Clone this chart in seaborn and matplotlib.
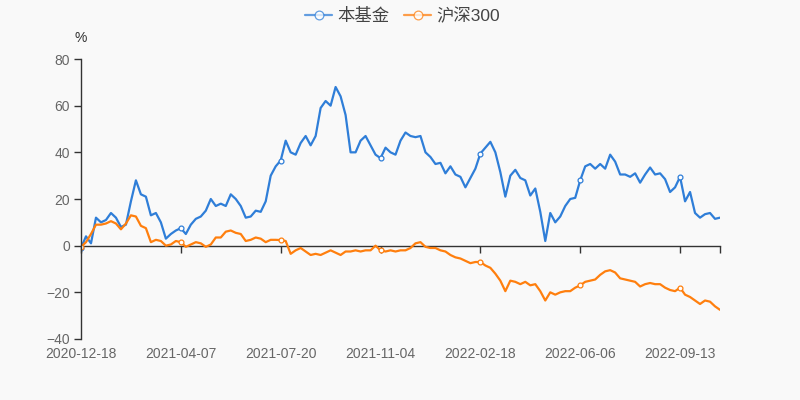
import matplotlib

matplotlib.use("Agg")
import matplotlib.pyplot as plt
import numpy as np
import pandas as pd
import seaborn as sns

# one sample roughly every 3-4 trading days
fund = [
    -1, 4, 1, 12, 10, 11, 14, 12, 8, 9,
    19, 28, 22, 21, 13, 14, 10, 3, 5, 6.5,
    7.5, 5, 9, 11.5, 12.5, 15, 20, 17, 18, 17,
    22, 20, 17, 12, 12.5, 15, 14.5, 19, 30, 34,
    36.5, 45, 40, 39, 44, 47, 43, 47, 59, 62,
    60, 68, 64, 56, 40, 40, 45, 47, 43, 39,
    37.5, 42, 40, 39, 45, 48.5, 47, 46.5, 47, 40,
    38, 35, 35.5, 31, 34, 30.5, 29.5, 25, 29, 33,
    39.5, 42, 44.5, 40, 31.5, 21, 30, 32.5, 29, 28,
    21.5, 24.5, 14.5, 2, 14, 10, 12.5, 17, 20, 20.5,
    28, 34, 35, 33, 35, 33, 39, 36, 30.5, 30.5,
    29.5, 31, 27, 30.5, 33.5, 30.5, 31, 28.5, 23, 25,
    29.5, 19, 23, 14, 12, 13.5, 14, 11.5, 12,
]
hs300 = [
    -0.5, 1.5, 5, 9, 9, 9.5, 10.5, 9.5, 7, 9.5,
    13, 12.5, 8.5, 7.5, 1.5, 2.5, 2, 0, 0.5, 2,
    1.5, -0.5, 0.5, 1.5, 1, -0.5, 0.5, 3.5, 3.5, 6,
    6.5, 5.5, 5, 2, 2.5, 3.5, 3, 1.5, 2.5, 2.5,
    2.4, 2, -3.5, -2, -1, -2.5, -4, -3.5, -4, -3,
    -2, -3, -4, -2.5, -2.5, -2, -2.5, -2, -2, 0,
    -2, -2.5, -2, -2.5, -2, -2, -1, 1, 1.5, -0.5,
    -1, -1, -2, -2.5, -4, -5, -5.5, -6.5, -7.5, -7,
    -7, -8.5, -9.5, -12, -15, -19.5, -15, -15.5, -16.5, -15.5,
    -17, -16.5, -19.5, -23.5, -20, -21, -20, -19.5, -19.5, -18,
    -17, -15.5, -15, -14.5, -12.5, -11, -10.5, -11.5, -14, -14.5,
    -15, -15.5, -17.5, -16.5, -16, -16.5, -16.5, -18, -19, -19.5,
    -18, -21, -22, -23.5, -25, -23.5, -24, -26, -27.5,
]
tick_labels = ["2020-12-18", "2021-04-07", "2021-07-20", "2021-11-04",
               "2022-02-18", "2022-06-06", "2022-09-13"]
tick_step = 20
y_ticks = [-40, -20, 0, 20, 40, 60, 80]

BG = "#f9f9f9"
BLUE = "#2f7ed8"
ORANGE = "#ff7f0e"

sns.set_theme(style="white")
plt.rcParams["font.family"] = ["Liberation Sans", "Noto Sans CJK SC", "DejaVu Sans"]

idx = np.arange(len(fund))
df = pd.DataFrame({"idx": idx, "fund": fund, "hs300": hs300})
n_last = len(fund) - 1
tick_pos = list(range(0, n_last + 1, tick_step))

fig = plt.figure(figsize=(8, 4), dpi=100, facecolor=BG)
ax = fig.add_axes([0.10125, 0.1525, 0.79875, 0.70])
ax.set_facecolor(BG)

for col, color, label in [("fund", BLUE, "本基金"), ("hs300", ORANGE, "沪深300")]:
    sns.lineplot(data=df, x="idx", y=col, ax=ax, color=color, linewidth=1.6,
                 marker="o", markersize=3.5, markevery=tick_pos,
                 markerfacecolor="white", markeredgecolor=color,
                 markeredgewidth=0.9, label=label)

ax.set_xlim(0, n_last)
ax.set_ylim(-40, 80)
ax.set_yticks(y_ticks)
ax.set_xticks(tick_pos[:len(tick_labels)])
ax.set_xticklabels(tick_labels)
ax.set_xlabel("")
ax.set_ylabel("")

for s in ("top", "right", "bottom"):
    ax.spines[s].set_visible(False)
ax.spines["left"].set_color("#333333")
ax.spines["left"].set_linewidth(1.0)
ax.tick_params(axis="y", length=5, width=1, color="#333333",
               labelsize=10, labelcolor="#666666", left=True, pad=3)
ax.tick_params(axis="x", length=0, labelsize=10, labelcolor="#666666", pad=6)

# x axis line sits at zero, ticks on it but labels stay at the bottom
zero_frac = (0 - (-40)) / (80 - (-40))
sec = ax.secondary_xaxis(zero_frac)
sec.set_xticks(tick_pos + [n_last])
sec.tick_params(axis="x", length=5, width=1, color="#333333", labelbottom=False,
                direction="out")
sec.spines["bottom"].set_color("#333333")
sec.spines["bottom"].set_linewidth(1.0)

ax.text(0, 1.05, "%", transform=ax.transAxes, ha="center", va="bottom",
        fontsize=10, color="#333333")

leg = ax.legend(loc="upper center", bbox_to_anchor=(0.503, 1.24),
                ncol=2, frameon=False, fontsize=12.5, handlelength=1.6,
                handletextpad=0.3, columnspacing=0.8, labelcolor="#444444",
                markerscale=1.8)
for h in leg.legend_handles:
    h.set_alpha(0.75)

fig.savefig("out.png", dpi=100, facecolor=BG)
